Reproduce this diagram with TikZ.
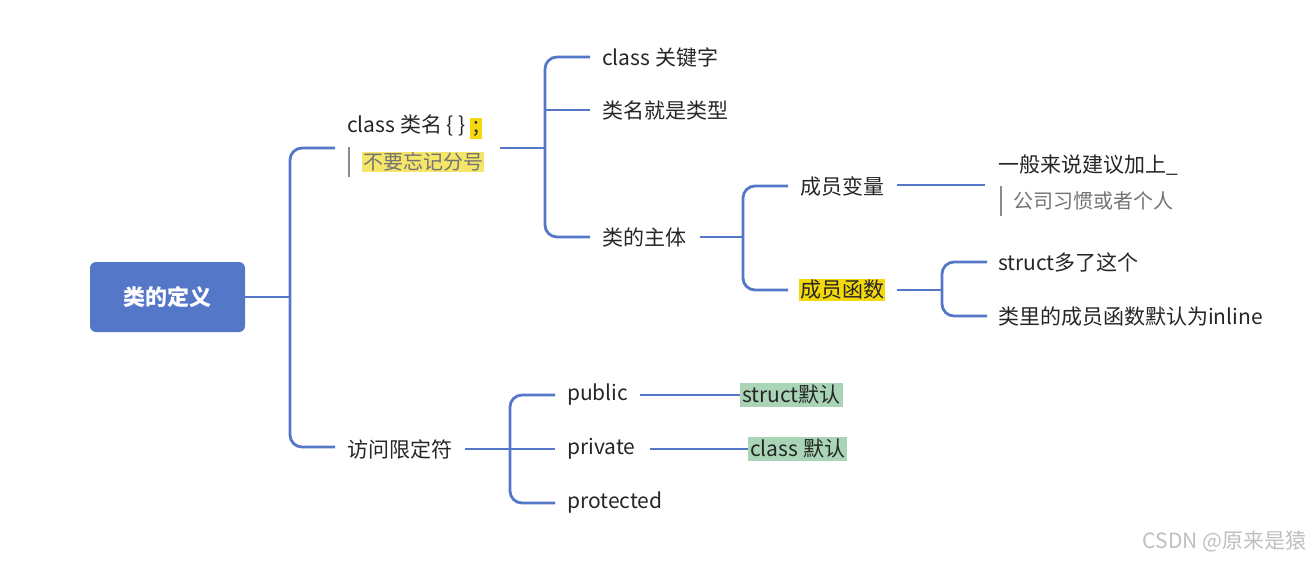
\documentclass[tikz,border=0pt]{standalone}
\usepackage{fontspec}
\setmainfont{Noto Sans CJK SC}
\definecolor{blu}{HTML}{5477C8}
\definecolor{yel}{HTML}{F3D80B}
\definecolor{lyel}{HTML}{F5E66A}
\definecolor{grn}{HTML}{A9D5B6}
\begin{document}
\begin{tikzpicture}[x=1pt,y=-1pt,
 t/.style={anchor=west,inner sep=1pt,font=\fontsize{21}{23}\selectfont,text=black!85},
 n/.style={anchor=west,inner sep=1pt,font=\fontsize{20}{22}\selectfont,text=black!55},
 c/.style={draw=blu,line width=2.8pt,rounded corners=12pt},
 bar/.style={draw=black!45,line width=2.8pt}]
\useasboundingbox (0,0) rectangle (1313,563);
\node[fill=blu,rounded corners=6pt,minimum width=155pt,minimum height=70pt,text=white,font=\fontsize{22}{24}\selectfont\bfseries] (root) at (167.5,297) {类的定义};
\node[t] (a) at (346,127) {class 类名 \{ \} \colorbox{yel}{;}};
\node[n,fill=lyel] (an) at (362,162) {不要忘记分号};
\draw[bar] (349,147)--(349,177);
\node[t] (b) at (346,449) {访问限定符};
\coordinate (r) at (290,297);
\draw[c] (root.east) -- (r);
\draw[c] (290,297) |- (335,148);
\draw[c] (290,297) |- (335,447);
\node[t] (a1) at (601,57) {class 关键字};
\node[t] (a2) at (601,110) {类名就是类型};
\node[t] (a3) at (601,237) {类的主体};
\draw[c] (500,148) -- (545,148);
\draw[c] (545,148) |- (590,57);
\draw[c] (545,110) -- (590,110);
\draw[c] (545,148) |- (590,237);
\node[t] (m1) at (799,186) {成员变量};
\node[t,fill=yel] (m2) at (799,290) {成员函数};
\draw[c] (700,237) -- (743,237);
\draw[c] (743,237) |- (788,186);
\draw[c] (743,237) |- (788,290);
\draw[c] (897,185) -- (985,185);
\node[t] (v1) at (997,165) {一般来说建议加上\_};
\node[n] (v2) at (1012,201) {公司习惯或者个人};
\draw[bar] (1001,186)--(1001,216);
\draw[c] (897,290) -- (942,290);
\draw[c] (942,290) |- (987,262);
\draw[c] (942,290) |- (987,316);
\node[t] (f1) at (997,262) {struct多了这个};
\node[t] (f2) at (997,317) {类里的成员函数默认为inline};
\draw[c] (465,449) -- (510,449);
\draw[c] (510,449) |- (555,395);
\draw[c] (510,449) -- (555,449);
\draw[c] (510,449) |- (555,503);
\node[t] (p1) at (566,395) {public};
\node[t] (p2) at (566,449) {private};
\node[t] (p3) at (566,503) {protected};
\node[t,fill=grn,inner sep=2pt] (s1) at (740,395) {struct默认};
\node[t,fill=grn,inner sep=2pt] (s2) at (748,449) {class 默认};
\draw[c] (640,395) -- (s1.west);
\draw[c] (650,449) -- (s2.west);
\node[anchor=east,font=\fontsize{21}{23}\selectfont,text=black!25] at (1310,541) {CSDN @原来是猿};
\end{tikzpicture}
\end{document}
